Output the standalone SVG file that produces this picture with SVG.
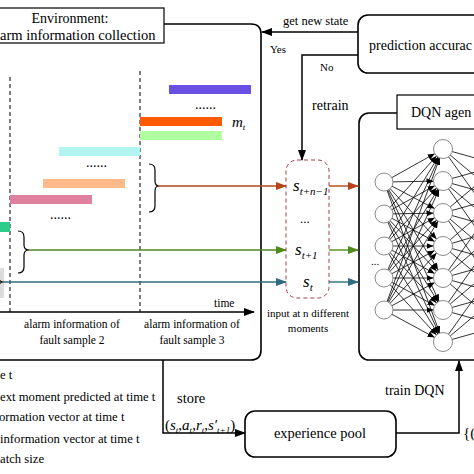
<svg xmlns="http://www.w3.org/2000/svg" width="474" height="474" viewBox="0 0 474 474">
<defs>
<style>
.t{font-family:"Liberation Serif","Times New Roman",serif;fill:#000}
.i{font-style:italic}
.box{fill:none;stroke:#000;stroke-width:1.6}
.wbox{fill:#fff;stroke:#000;stroke-width:1.2}
.ln{fill:none;stroke:#000;stroke-width:1.5}
.dash{fill:none;stroke:#000;stroke-width:1;stroke-dasharray:4,3}
.nn{stroke:#000;stroke-width:0.8}
.node{fill:#fff;stroke:#8a8a8a;stroke-width:1}
.brace{fill:none;stroke:#000;stroke-width:1.2}
</style>
<marker id="ak" markerUnits="userSpaceOnUse" markerWidth="11" markerHeight="8" refX="10" refY="4" orient="auto" viewBox="0 0 11 8"><path d="M0,0 L11,4 L0,8 z" fill="#000"/></marker>
<marker id="ao" markerUnits="userSpaceOnUse" markerWidth="11" markerHeight="8" refX="10" refY="4" orient="auto" viewBox="0 0 11 8"><path d="M0,0 L11,4 L0,8 z" fill="#b5441c"/></marker>
<marker id="ag" markerUnits="userSpaceOnUse" markerWidth="11" markerHeight="8" refX="10" refY="4" orient="auto" viewBox="0 0 11 8"><path d="M0,0 L11,4 L0,8 z" fill="#4e8a1c"/></marker>
<marker id="ab" markerUnits="userSpaceOnUse" markerWidth="11" markerHeight="8" refX="10" refY="4" orient="auto" viewBox="0 0 11 8"><path d="M0,0 L11,4 L0,8 z" fill="#2e6b7e"/></marker>
<marker id="an" markerUnits="userSpaceOnUse" markerWidth="17" markerHeight="6" refX="16.5" refY="3" orient="auto" viewBox="0 0 17 6"><path d="M0,0 L7,3 L0,6 z" fill="#000"/></marker>
</defs>

<g id="environment">
<path class="box" d="M-10,24 H251 Q261,24 261,34 V350 Q261,360 251,360 H-10"/>
<rect class="wbox" x="-2" y="8" width="166" height="35"/>
<text class="t" x="70" y="23" font-size="14" text-anchor="middle">Environment:</text>
<text class="t" x="0" y="40" font-size="14.5">arm information collection</text>
<line class="dash" x1="10" y1="77" x2="10" y2="312"/>
<line class="dash" x1="140" y1="71" x2="140" y2="312"/>
<rect x="169" y="85" width="82" height="9" fill="#6a4fe3"/>
<text class="t" x="195" y="108.5" font-size="14">......</text>
<rect x="140" y="117" width="82" height="9" fill="#ff5a00"/>
<text class="t i" x="232" y="127" font-size="15">m<tspan font-size="9" dy="3">t</tspan></text>
<rect x="140" y="131" width="82" height="9" fill="#b0ffa0"/>
<rect x="59" y="147" width="81" height="9" fill="#b0f5ef"/>
<text class="t" x="86" y="166.5" font-size="14">......</text>
<rect x="43" y="179" width="82" height="9" fill="#ffb98a"/>
<rect x="10" y="195" width="82" height="9" fill="#e0809f"/>
<text class="t" x="50" y="218.5" font-size="14">......</text>
<rect x="0" y="222" width="10" height="10" fill="#2ecc8a"/>
<rect x="0" y="268" width="4" height="30" fill="#dcdcdc"/>
<path class="brace" d="M149,164 Q155,164 155,170 V181 Q155,186 159,186 Q155,186 155,191 V206 Q155,212 149,212"/>
<path class="brace" d="M18,231 Q24,231 24,237 V245 Q24,250 29,250 Q24,250 24,255 V267 Q24,273 18,273"/>
<path class="brace" d="M-2,278 Q0,282 3,282 Q0,282 -2,286"/>
<line class="ln" x1="0" y1="312" x2="254" y2="312" marker-end="url(#ak)"/>
<text class="t" x="214" y="307" font-size="11.5">time</text>
<text class="t" x="72" y="328" font-size="11.5" text-anchor="middle">alarm information of</text>
<text class="t" x="72" y="344" font-size="11.5" text-anchor="middle">fault sample 2</text>
<text class="t" x="192" y="328" font-size="11.5" text-anchor="middle">alarm information of</text>
<text class="t" x="192" y="344" font-size="11.5" text-anchor="middle">fault sample 3</text>
</g>

<g id="legend">
<text class="t" x="0" y="379" font-size="12.7">e t</text>
<text class="t" x="0" y="401" font-size="12.7">ext moment predicted at time t</text>
<text class="t" x="-1" y="421" font-size="12.7">ormation vector at time t</text>
<text class="t" x="0" y="443" font-size="12.7">information vector at time t</text>
<text class="t" x="0" y="463" font-size="12.7">atch size</text>
</g>

<g id="input-states">
<rect x="286" y="160" width="43" height="138" rx="11" fill="none" stroke="#a0404a" stroke-width="1" stroke-dasharray="4,3"/>
<text class="t i" x="293" y="191" font-size="17">s<tspan font-size="11" dy="4">t+n−1</tspan></text>
<text class="t" x="300" y="223" font-size="13">...</text>
<text class="t i" x="295" y="255" font-size="17">s<tspan font-size="11" dy="4">t+1</tspan></text>
<text class="t i" x="303" y="287" font-size="17">s<tspan font-size="11" dy="4">t</tspan></text>
<text class="t" x="308" y="317" font-size="11" text-anchor="middle">input at n different</text>
<text class="t" x="308" y="332" font-size="11" text-anchor="middle">moments</text>
</g>

<g id="prediction-accuracy">
<rect x="358" y="15" width="150" height="58" rx="10" class="box"/>
<text class="t" x="369" y="50" font-size="14">prediction accurac</text>
</g>

<g id="dqn-agent">
<rect x="359" y="113" width="160" height="247" rx="10" class="box"/>
<rect class="wbox" x="397" y="95" width="100" height="34"/>
<text class="t" x="411" y="117" font-size="14">DQN agen</text>
<g id="nn-edges">
<g class="nn" marker-end="url(#an)">
<line x1="384" y1="182" x2="443" y2="149"/><line x1="384" y1="182" x2="443" y2="181"/><line x1="384" y1="182" x2="443" y2="213"/><line x1="384" y1="182" x2="443" y2="246"/><line x1="384" y1="182" x2="443" y2="278"/><line x1="384" y1="182" x2="443" y2="310"/><line x1="384" y1="182" x2="443" y2="342"/>
<line x1="384" y1="214" x2="443" y2="149"/><line x1="384" y1="214" x2="443" y2="181"/><line x1="384" y1="214" x2="443" y2="213"/><line x1="384" y1="214" x2="443" y2="246"/><line x1="384" y1="214" x2="443" y2="278"/><line x1="384" y1="214" x2="443" y2="310"/><line x1="384" y1="214" x2="443" y2="342"/>
<line x1="384" y1="246" x2="443" y2="149"/><line x1="384" y1="246" x2="443" y2="181"/><line x1="384" y1="246" x2="443" y2="213"/><line x1="384" y1="246" x2="443" y2="246"/><line x1="384" y1="246" x2="443" y2="278"/><line x1="384" y1="246" x2="443" y2="310"/><line x1="384" y1="246" x2="443" y2="342"/>
<line x1="384" y1="278" x2="443" y2="149"/><line x1="384" y1="278" x2="443" y2="181"/><line x1="384" y1="278" x2="443" y2="213"/><line x1="384" y1="278" x2="443" y2="246"/><line x1="384" y1="278" x2="443" y2="278"/><line x1="384" y1="278" x2="443" y2="310"/><line x1="384" y1="278" x2="443" y2="342"/>
<line x1="384" y1="310" x2="443" y2="149"/><line x1="384" y1="310" x2="443" y2="181"/><line x1="384" y1="310" x2="443" y2="213"/><line x1="384" y1="310" x2="443" y2="246"/><line x1="384" y1="310" x2="443" y2="278"/><line x1="384" y1="310" x2="443" y2="310"/><line x1="384" y1="310" x2="443" y2="342"/>
</g>
<g class="nn">
<line x1="443" y1="149" x2="500" y2="165"/><line x1="443" y1="149" x2="500" y2="197"/><line x1="443" y1="149" x2="500" y2="229"/>
<line x1="443" y1="181" x2="500" y2="165"/><line x1="443" y1="181" x2="500" y2="197"/><line x1="443" y1="181" x2="500" y2="229"/><line x1="443" y1="181" x2="500" y2="262"/>
<line x1="443" y1="213" x2="500" y2="165"/><line x1="443" y1="213" x2="500" y2="197"/><line x1="443" y1="213" x2="500" y2="229"/><line x1="443" y1="213" x2="500" y2="262"/><line x1="443" y1="213" x2="500" y2="294"/>
<line x1="443" y1="246" x2="500" y2="197"/><line x1="443" y1="246" x2="500" y2="229"/><line x1="443" y1="246" x2="500" y2="262"/><line x1="443" y1="246" x2="500" y2="294"/>
<line x1="443" y1="278" x2="500" y2="197"/><line x1="443" y1="278" x2="500" y2="229"/><line x1="443" y1="278" x2="500" y2="262"/><line x1="443" y1="278" x2="500" y2="294"/><line x1="443" y1="278" x2="500" y2="326"/>
<line x1="443" y1="310" x2="500" y2="229"/><line x1="443" y1="310" x2="500" y2="262"/><line x1="443" y1="310" x2="500" y2="294"/><line x1="443" y1="310" x2="500" y2="326"/>
<line x1="443" y1="342" x2="500" y2="262"/><line x1="443" y1="342" x2="500" y2="294"/><line x1="443" y1="342" x2="500" y2="326"/>
</g>
</g>
<g id="nn-nodes">
<circle class="node" cx="384" cy="182" r="9"/><circle class="node" cx="384" cy="214" r="9"/><circle class="node" cx="384" cy="246" r="9"/><circle class="node" cx="384" cy="278" r="9"/><circle class="node" cx="384" cy="310" r="9"/>
<circle class="node" cx="443" cy="149" r="9.5"/><circle class="node" cx="443" cy="181" r="9.5"/><circle class="node" cx="443" cy="213" r="9.5"/><circle class="node" cx="443" cy="246" r="9.5"/><circle class="node" cx="443" cy="278" r="9.5"/><circle class="node" cx="443" cy="310" r="9.5"/><circle class="node" cx="443" cy="342" r="9.5"/>
</g>
<text class="t" x="371" y="265" font-size="11">...</text>
</g>

<g id="experience-pool">
<rect x="245" y="411" width="151" height="46" rx="10" class="box"/>
<text class="t" x="320" y="438" font-size="14.5" text-anchor="middle">experience pool</text>
</g>

<g id="connectors">
<line x1="358" y1="32" x2="262" y2="32" class="ln" marker-end="url(#ak)"/>
<text class="t" x="283" y="25" font-size="12.5">get new state</text>
<text class="t" x="270" y="53" font-size="11">Yes</text>
<polyline points="358,55 302,55 302,160" class="ln" marker-end="url(#ak)"/>
<text class="t" x="320" y="71" font-size="11">No</text>
<text class="t" x="312" y="110" font-size="14">retrain</text>
<line x1="158" y1="186" x2="286" y2="186" stroke="#b5441c" stroke-width="1.4" marker-end="url(#ao)"/>
<line x1="29" y1="250" x2="286" y2="250" stroke="#4e8a1c" stroke-width="1.4" marker-end="url(#ag)"/>
<line x1="3" y1="282" x2="286" y2="282" stroke="#2e6b7e" stroke-width="1.4" marker-end="url(#ab)"/>
<line x1="329" y1="186" x2="358" y2="186" stroke="#b5441c" stroke-width="1.4" marker-end="url(#ao)"/>
<line x1="329" y1="250" x2="358" y2="250" stroke="#4e8a1c" stroke-width="1.4" marker-end="url(#ag)"/>
<line x1="329" y1="282" x2="358" y2="282" stroke="#2e6b7e" stroke-width="1.4" marker-end="url(#ab)"/>
<polyline points="163,360 163,433 245,433" class="ln" marker-end="url(#ak)"/>
<text class="t" x="177" y="403" font-size="14.5">store</text>
<text class="t" x="165" y="430" font-size="15">(<tspan class="i">s</tspan><tspan class="i" font-size="9" dy="3">t</tspan><tspan dy="-3">,</tspan><tspan class="i">a</tspan><tspan class="i" font-size="9" dy="3">t</tspan><tspan dy="-3">,</tspan><tspan class="i">r</tspan><tspan class="i" font-size="9" dy="3">t</tspan><tspan dy="-3">,</tspan><tspan class="i">s′</tspan><tspan class="i" font-size="9" dy="3">t+1</tspan><tspan dy="-3">)</tspan></text>
<polyline points="396,433 459,433 459,361" class="ln" marker-end="url(#ak)"/>
<text class="t" x="385" y="395" font-size="14">train DQN</text>
<text class="t" x="463" y="438" font-size="15">{(</text>
</g>
</svg>
